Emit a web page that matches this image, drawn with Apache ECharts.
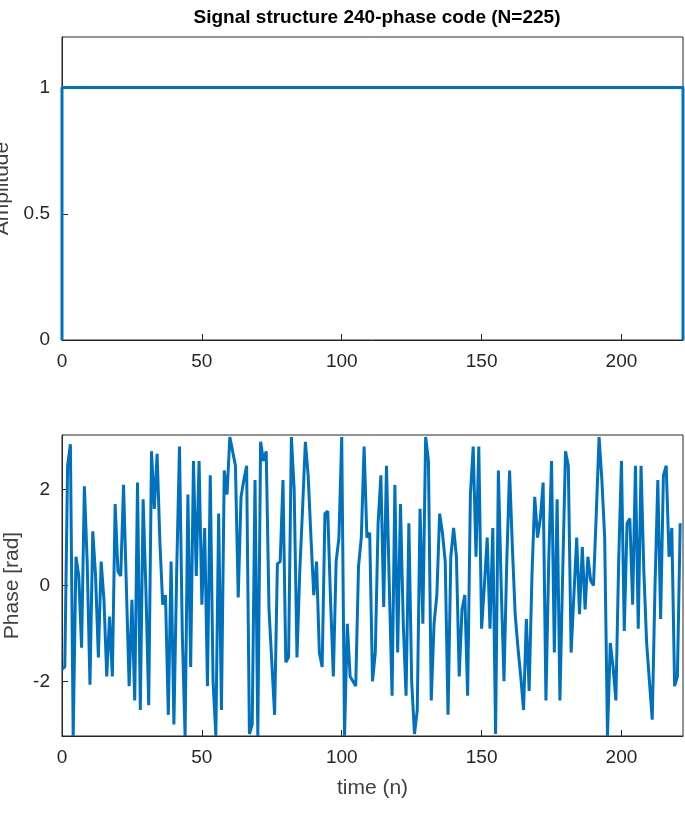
<!DOCTYPE html>
<html>
<head>
<meta charset="utf-8">
<script src="https://cdn.jsdelivr.net/npm/echarts@6/dist/echarts.min.js"></script>
<style>html,body{margin:0;padding:0;background:#fff}#main{width:685px;height:823px}</style>
</head>
<body>
<div id="main"></div>
<script>
// Data
var xTicks = [0, 50, 100, 150, 200];
var ampTicks = [0, 0.5, 1];
var phaseTicks = [-2, 0, 2];
var nLast = 222;
var amplitude = [[0, 0], [0, 1], [nLast, 1], [nLast, 0]];
var phase = [
  -1.75,-1.7,2.5,2.95,-3.14,0.6,0.2,-1.3,2.07,0.5,-2.07,1.13,0.2,-1.5,0.5,-0.3,-1.9,-0.65,-1.9,1.7,0.3,0.2,2.1,0.0,-2.1,
  -0.3,-2.4,2.15,-2.6,1.8,-0.1,-2.5,2.8,1.6,2.75,0.9,-0.4,-0.2,-2.7,0.5,-2.9,0.3,2.9,-1.0,-3.14,1.9,-1.7,2.6,0.2,
  2.6,-0.4,1.2,-2.1,2.3,-2.0,-3.14,1.5,-2.6,2.4,1.9,3.1,2.8,2.5,-0.25,1.85,2.2,2.5,-3.1,-2.9,2.2,-3.14,3.0,2.6,
  2.8,-0.5,-1.6,-2.7,0.45,0.5,2.2,-1.6,-1.5,3.1,2.0,-1.5,0.3,1.6,3.0,2.3,1.0,-0.2,0.5,-1.4,-1.7,1.5,1.55,-0.3,-1.9,0.5,
  1.0,3.1,-3.14,-0.8,-1.9,-2.0,-2.1,0.4,1.0,2.9,1.0,1.1,-2.0,-1.4,1.3,2.3,-0.45,2.5,0.0,-2.3,2.1,-1.4,1.7,-0.8,-2.3,
  1.3,-2.0,-3.1,-2.6,1.6,-0.8,3.1,2.6,-2.4,-0.8,-0.2,1.5,1.1,0.5,-2.7,0.6,1.2,0.6,-1.9,-0.5,-0.2,-2.3,1.9,2.9,0.6,
  2.9,-0.9,0.0,1.0,-0.9,1.2,-3.1,2.4,0.0,-2.0,0.5,2.4,0.8,-0.6,-1.3,-1.9,-2.6,-0.7,-2.2,0.2,1.85,1.0,1.4,2.15,-2.4,
  0.5,2.6,-1.4,1.8,-2.4,0.3,2.8,2.5,-1.4,-0.2,1.0,-0.6,0.8,-0.5,0.6,0.1,0.0,1.5,3.1,2.2,1.0,-3.14,
  -1.2,-1.7,-2.4,0.5,2.6,-0.95,1.3,1.4,-0.4,2.5,-0.9,2.5,0.3,-1.2,-2.0,-2.8,0.0,2.2,-0.7,2.3,2.5,0.6,1.2,-2.1,-1.9,1.3
];

var font = '"Liberation Sans Narrow", "Liberation Sans", Arial, sans-serif';
var blue = '#0072BD';

function xAxis(idx, name) {
  return {
    type: 'value', gridIndex: idx, min: 0, max: nLast, name: name,
    nameLocation: 'middle', nameGap: 42,
    nameTextStyle: {fontFamily: font, fontSize: 21, color: '#404040'},
    axisLine: {onZero: false, lineStyle: {color: '#262626'}},
    axisTick: {inside: true, length: 6, customValues: xTicks, lineStyle: {color: '#262626'}},
    axisLabel: {customValues: xTicks, fontFamily: font, fontSize: 19, color: '#262626', margin: 12},
    splitLine: {show: false}
  };
}

function yAxis(idx, min, max, ticks, name) {
  return {
    type: 'value', gridIndex: idx, min: min, max: max, name: name,
    nameLocation: 'middle', nameGap: 36,
    nameTextStyle: {fontFamily: font, fontSize: 21, color: '#404040'},
    axisLine: {show: true, onZero: false, lineStyle: {color: '#262626'}},
    axisTick: {show: true, inside: true, length: 6, customValues: ticks, lineStyle: {color: '#262626'}},
    axisLabel: {customValues: ticks, formatter: function (v) { return String(v); },
                fontFamily: font, fontSize: 19, color: '#262626', margin: 12},
    splitLine: {show: false}
  };
}

var chart = echarts.init(document.getElementById('main'));
chart.setOption({
  animation: false,
  title: {
    text: 'Signal structure 240-phase code (N=225)', left: 372, top: 3, textAlign: 'center',
    textStyle: {fontFamily: font, fontSize: 19, fontWeight: 'bold', color: '#000'}
  },
  grid: [
    {left: 62, right: 2, top: 37, height: 303, outerBoundsMode: 'none', containLabel: false,
     show: true, borderColor: '#262626', borderWidth: 1},
    {left: 62, right: 2, top: 435, height: 301, outerBoundsMode: 'none', containLabel: false,
     show: true, borderColor: '#262626', borderWidth: 1}
  ],
  xAxis: [xAxis(0, ''), xAxis(1, 'time (n)')],
  yAxis: [
    yAxis(0, 0, 1.2, ampTicks, 'Amplitude'),
    yAxis(1, -Math.PI, Math.PI, phaseTicks, 'Phase [rad]')
  ],
  series: [
    {type: 'line', xAxisIndex: 0, yAxisIndex: 0, data: amplitude, symbol: 'none',
     lineStyle: {color: blue, width: 3}},
    {type: 'line', xAxisIndex: 1, yAxisIndex: 1, data: phase.map(function (v, i) { return [i, v]; }),
     symbol: 'none', lineStyle: {color: blue, width: 3}}
  ]
});
</script>
</body>
</html>
